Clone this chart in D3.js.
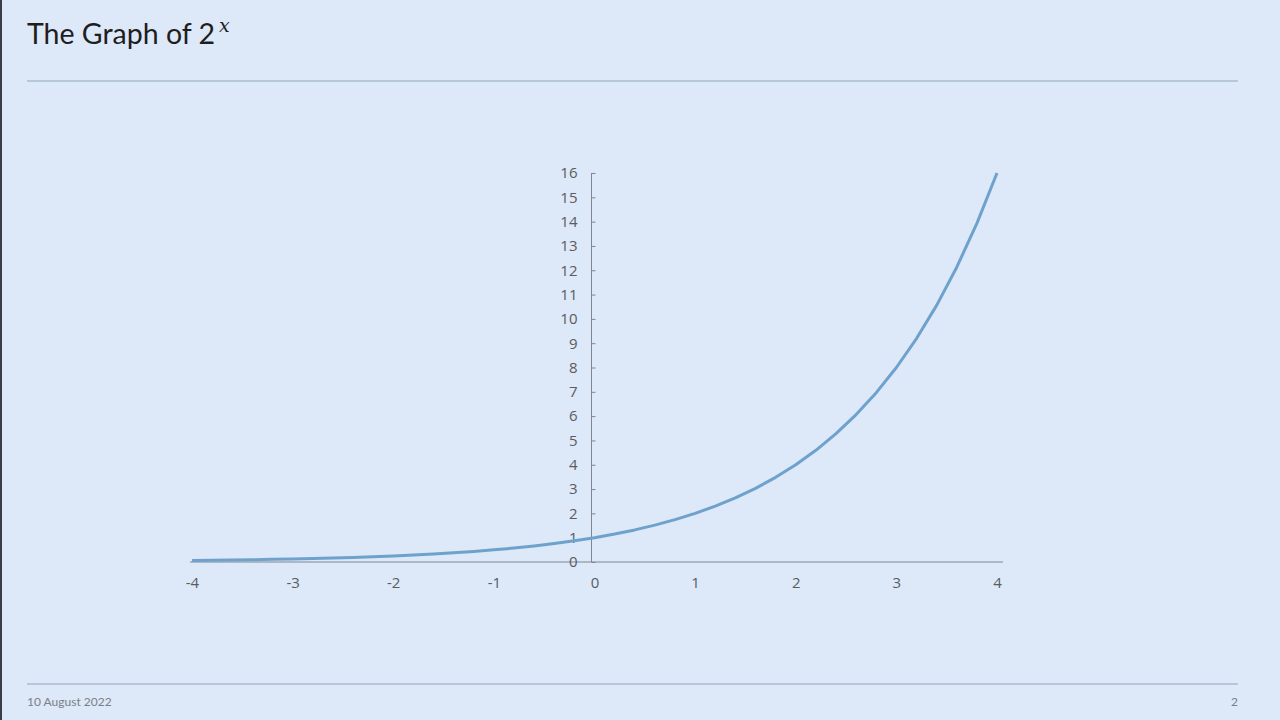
<!DOCTYPE html>
<html><head><meta charset="utf-8">
<script src="https://cdn.jsdelivr.net/npm/d3@7"></script>
<style>
html,body{margin:0;padding:0;background:#dde8f8;}
svg{display:block;}
</style></head>
<body>
<svg id="chart" width="1280" height="720"></svg>
<script>
const xValues = [-4,-3.8,-3.6,-3.4,-3.2,-3,-2.8,-2.6,-2.4,-2.2,-2,-1.8,-1.6,-1.4,-1.2,-1,-0.8,-0.6,-0.4,-0.2,0,0.2,0.4,0.6,0.8,1,1.2,1.4,1.6,1.8,2,2.2,2.4,2.6,2.8,3,3.2,3.4,3.6,3.8,4];
const yValues = [0.063,0.072,0.082,0.095,0.109,0.125,0.144,0.165,0.189,0.218,0.25,0.287,0.33,0.379,0.435,0.5,0.574,0.66,0.758,0.871,1,1.149,1.32,1.516,1.741,2,2.297,2.639,3.031,3.482,4,4.595,5.278,6.063,6.964,8,9.19,10.556,12.126,13.929,16];
const xTicks = [-4,-3,-2,-1,0,1,2,3,4];
const yTicks = [0,1,2,3,4,5,6,7,8,9,10,11,12,13,14,15,16];
const titleText = "The Graph of 2";
const titleExp = "x";
const footerDate = "10 August 2022";
const pageNumber = "2";

const svg = d3.select("#chart");
const font = "'Open Sans', 'Noto Sans', sans-serif";

svg.append("rect").attr("width",1280).attr("height",720).attr("fill","#dde8f8");
svg.append("rect").attr("x",0).attr("y",0).attr("width",2).attr("height",720).attr("fill","#3a3f47");

// title
const t = svg.append("text").attr("x",27).attr("y",44)
  .attr("font-family", "Lato, 'Open Sans', sans-serif").attr("font-size",28.5).attr("fill","#1e1e1e");
t.append("tspan").text(titleText);
t.append("tspan").attr("dy",-12).attr("dx",4).attr("font-size",19)
  .attr("font-family","'DejaVu Serif', serif").attr("font-style","italic").text(titleExp);

svg.append("line").attr("x1",27).attr("x2",1238).attr("y1",81).attr("y2",81)
  .attr("stroke","#8fa6b8").attr("stroke-width",1.2);
svg.append("line").attr("x1",27).attr("x2",1238).attr("y1",684).attr("y2",684)
  .attr("stroke","#8fa6b8").attr("stroke-width",1.2);

svg.append("text").attr("x",27).attr("y",706).attr("font-family","Lato, sans-serif")
  .attr("font-size",12).attr("fill","#7b7f86").text(footerDate);
svg.append("text").attr("x",1238).attr("y",706).attr("text-anchor","end").attr("font-family","Lato, sans-serif")
  .attr("font-size",12).attr("fill","#7b7f86").text(pageNumber);

// scales
const x = d3.scaleLinear().domain([-4,4]).range([192,997]);
const y = d3.scaleLinear().domain([0,16]).range([562,173]);
const axisColor = "#7c8793";
const labelColor = "#595c62";
const fmt = d => String(d);

// x axis
const xAxis = svg.append("g").attr("transform",`translate(0,${y(0)})`)
  .call(d3.axisBottom(x).tickValues(xTicks).tickSize(0).tickPadding(15).tickFormat(fmt));
xAxis.select(".domain").attr("stroke",axisColor).attr("d",`M${x(-4)-2},0H${x(4)+6}`);
xAxis.selectAll("text").attr("font-family",font).attr("font-size",15).attr("fill",labelColor);

// y axis
const yAxis = svg.append("g").attr("transform",`translate(${x(0)-3},0)`)
  .call(d3.axisRight(y).tickValues(yTicks).tickSize(4).tickFormat(fmt));
yAxis.select(".domain").attr("stroke",axisColor).attr("d",`M0,${y(16)}V${y(0)}`);
yAxis.selectAll("line").attr("stroke",axisColor);
yAxis.selectAll("text").attr("x",-14).attr("text-anchor","end")
  .attr("font-family",font).attr("font-size",15).attr("fill",labelColor);

// curve
const pts = xValues.map((v,i)=>[v,yValues[i]]);
svg.append("path").datum(pts)
  .attr("fill","none").attr("stroke","#6ea2cd").attr("stroke-width",3).attr("stroke-linejoin","round")
  .attr("d", d3.line().x(d=>x(d[0])).y(d=>y(d[1])));
</script>
</body></html>
